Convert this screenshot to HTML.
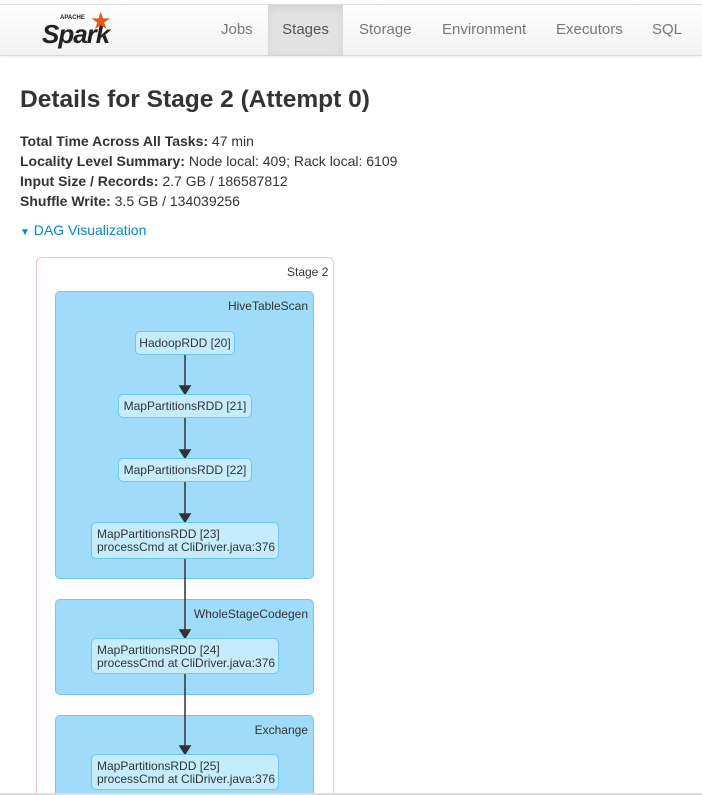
<!DOCTYPE html>
<html style="overflow:hidden;height:795px"><head><style>
body{margin:0;width:702px;height:795px;overflow:hidden;background:#fff;font-family:"Liberation Sans",Arial,sans-serif;color:#333;position:relative}
.nav{position:absolute;left:0;top:4px;width:702px;height:50px;background:linear-gradient(#fff,#f2f2f2);border-top:1px solid #ddd;border-bottom:1px solid #d4d4d4;box-shadow:0 1px 3px rgba(0,0,0,.08)}
.nav a{position:absolute;top:0;height:50px;line-height:50px;font-size:15px;color:#777;text-decoration:none}
.act{background:#e2e2e2;box-shadow:inset 0 3px 8px rgba(0,0,0,.08)}
h3{position:absolute;left:20px;top:86px;margin:0;font-size:24.5px;font-weight:bold;color:#333}
.info{position:absolute;left:20px;top:131px;font-size:14px;line-height:20px}
.dag{position:absolute;left:20px;top:222px;font-size:14px;color:#0088cc}
.n{position:absolute;background:#c4ecfd;border:1px solid #6dc8f0;border-radius:5px;font-size:12px;color:#333;box-sizing:border-box;white-space:nowrap}
.c{position:absolute;left:55px;width:259px;background:#a0dcfa;border:1px solid #6dc8f0;border-radius:5px;box-sizing:border-box}
.cl{position:absolute;right:5px;top:7px;font-size:12px;color:#333}
</style></head><body>
<div class="nav">
 <div style="position:absolute;left:40px;top:6px;width:80px;height:40px">
  <span style="position:absolute;left:2px;top:8px;font-size:26px;font-weight:bold;font-style:italic;color:#222;letter-spacing:-1px">Spark</span>
  <span style="position:absolute;left:20px;top:4px;font-size:6px;font-weight:bold;color:#222">APACHE</span>
  <span style="position:absolute;left:50px;top:-4px;font-size:24px;color:#e25a1c">★</span>
 </div>
 <a style="left:221px">Jobs</a>
 <a class="act" style="left:268px;width:75px;text-align:center;color:#555">Stages</a>
 <a style="left:359px">Storage</a>
 <a style="left:442px">Environment</a>
 <a style="left:556px">Executors</a>
 <a style="left:652px">SQL</a>
</div>
<h3>Details for Stage 2 (Attempt 0)</h3>
<div class="info">
<b>Total Time Across All Tasks:</b> 47 min<br>
<b>Locality Level Summary:</b> Node local: 409; Rack local: 6109<br>
<b>Input Size / Records:</b> 2.7 GB / 186587812<br>
<b>Shuffle Write:</b> 3.5 GB / 134039256
</div>
<div class="dag"><span style="font-size:10px">▼</span> DAG Visualization</div>
<div style="position:absolute;left:36px;top:257px;width:298px;height:560px;border:1px solid #f5c0c8;border-radius:6px;box-sizing:border-box"></div>
<div style="position:absolute;left:287px;top:265px;font-size:12px">Stage 2</div>
<div class="c" style="top:291px;height:288px"><span class="cl">HiveTableScan</span></div>
<div class="c" style="top:599px;height:96px"><span class="cl">WholeStageCodegen</span></div>
<div class="c" style="top:715px;height:100px"><span class="cl">Exchange</span></div>
<svg style="position:absolute;left:0;top:0" width="702" height="795">
<g stroke="#333" stroke-width="1.5" fill="#333">
<line x1="185" y1="354" x2="185" y2="386"/><polygon points="180,386 190,386 185,394"/>
<line x1="185" y1="418" x2="185" y2="450"/><polygon points="180,450 190,450 185,458"/>
<line x1="185" y1="482" x2="185" y2="514"/><polygon points="180,514 190,514 185,522"/>
<line x1="185" y1="558" x2="185" y2="630"/><polygon points="180,630 190,630 185,638"/>
<line x1="185" y1="673" x2="185" y2="746"/><polygon points="180,746 190,746 185,754"/>
</g></svg>
<div class="n" style="left:135px;top:331px;width:100px;height:24px;line-height:22px;text-align:center">HadoopRDD [20]</div>
<div class="n" style="left:118px;top:394px;width:134px;height:24px;line-height:22px;text-align:center">MapPartitionsRDD [21]</div>
<div class="n" style="left:118px;top:458px;width:134px;height:24px;line-height:22px;text-align:center">MapPartitionsRDD [22]</div>
<div class="n" style="left:91px;top:522px;width:188px;height:37px;padding:5px 5px;line-height:13px">MapPartitionsRDD [23]<br>processCmd at CliDriver.java:376</div>
<div class="n" style="left:91px;top:638px;width:188px;height:36px;padding:5px 5px;line-height:13px">MapPartitionsRDD [24]<br>processCmd at CliDriver.java:376</div>
<div class="n" style="left:91px;top:754px;width:188px;height:36px;padding:5px 5px;line-height:13px">MapPartitionsRDD [25]<br>processCmd at CliDriver.java:376</div>
<div style="position:absolute;left:0;top:793px;width:702px;height:2px;background:#ddd"></div>
</body></html>
